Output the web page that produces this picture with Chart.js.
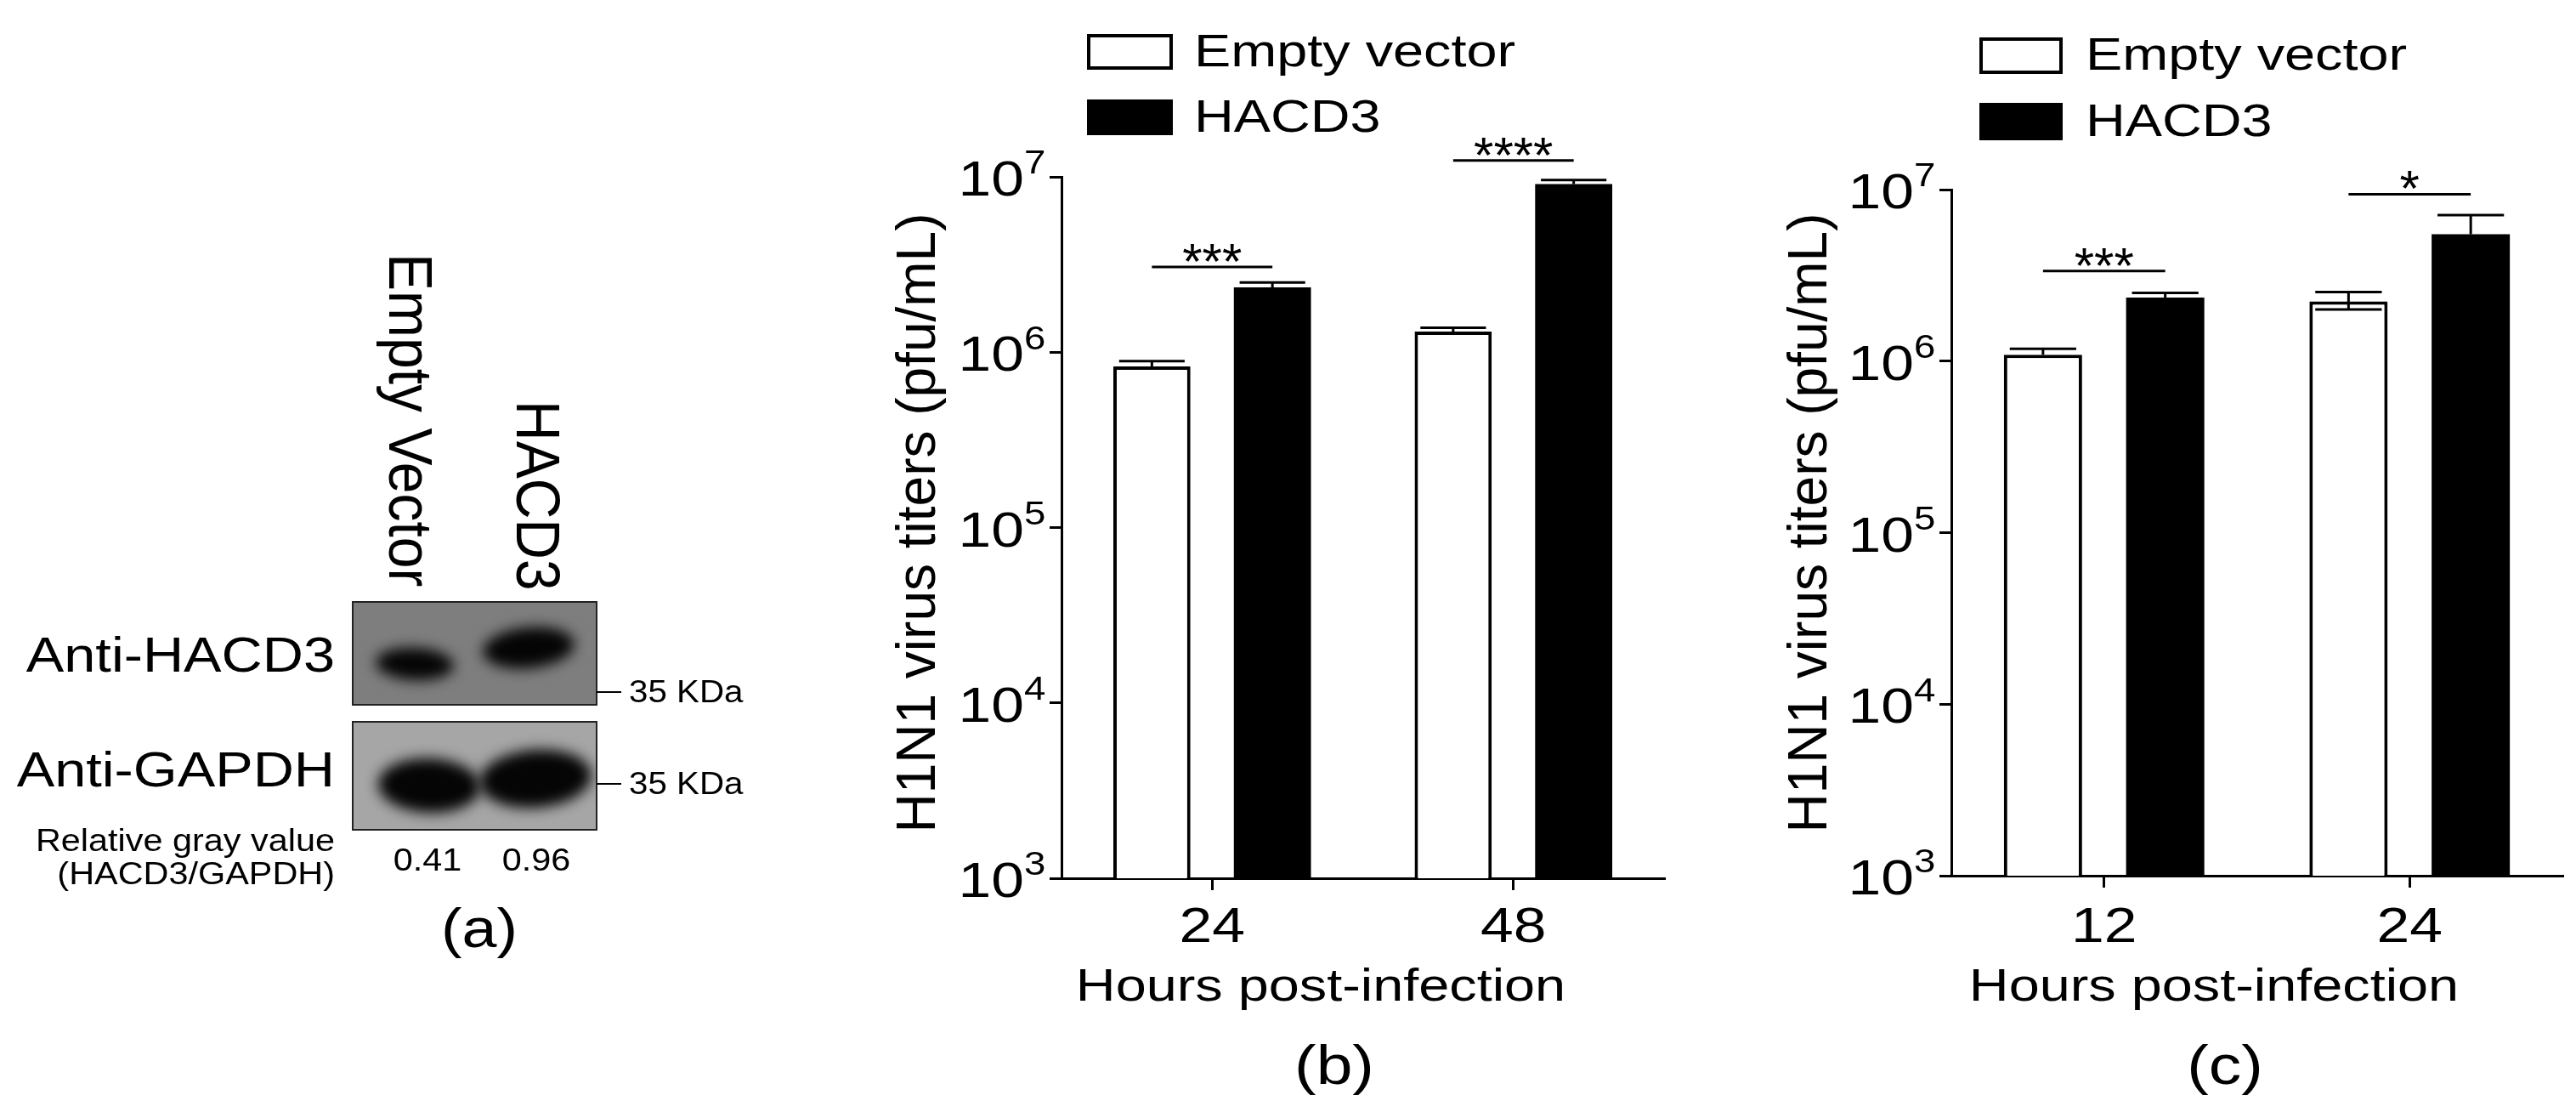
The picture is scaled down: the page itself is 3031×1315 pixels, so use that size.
<!DOCTYPE html>
<html><head><meta charset="utf-8">
<script src="https://cdn.jsdelivr.net/npm/chart.js@4"></script>
<style>html,body{margin:0;padding:0;background:#fff;width:3031px;height:1315px;overflow:hidden}canvas{position:absolute;top:0}</style>
</head><body>
<canvas id="ca" width="1000" height="1315" style="left:0"></canvas>
<canvas id="cb" width="1000" height="1315" style="left:1000px"></canvas>
<canvas id="cc" width="1000" height="1315" style="left:2031px"></canvas>
<script>
// ---- data ----
const seriesNames = ["Empty vector", "HACD3"];
const catsB = ["24", "48"];
const emptyB = [8.3e5, 1.31e6];
const hacdB = [2.34e6, 9.1e6];
const emptyHiB = [8.9e5, 1.38e6];
const hacdHiB = [2.5e6, 9.6e6];
const emptyLoB = [null, null];
const sigLevelB = [3.06e6, 1.24e7];
const sigTextB = ["***", "****"];

const catsC = ["12", "24"];
const emptyC = [1.09e6, 2.23e6];
const hacdC = [2.35e6, 5.5e6];
const emptyHiC = [1.18e6, 2.53e6];
const hacdHiC = [2.5e6, 7.1e6];
const emptyLoC = [null, 2.0e6];
const sigLevelC = [3.35e6, 9.4e6];
const sigTextC = ["***", "*"];

const decades = [3, 4, 5, 6, 7];
const blotValues = ["0.41", "0.96"];

const FF = "'Liberation Sans', Arial, sans-serif";
function txt(ctx, s, x, y, size, align, base, rot, sx) {
  ctx.save();
  ctx.translate(x, y);
  ctx.scale(sx == null ? 1.2 : sx, 1);
  if (rot) ctx.rotate(rot);
  ctx.font = size + "px " + FF;
  ctx.fillStyle = "#000";
  ctx.textAlign = align || "center";
  ctx.textBaseline = base || "middle";
  ctx.fillText(s, 0, 0);
  ctx.restore();
}

function makeChart(id, g, cats, empty, hacd, eHi, hHi, eLo, sigLv, sigTx, letter) {
  const annot = {
    id: "annot",
    afterDraw(chart) {
      const ctx = chart.ctx, ys = chart.scales.y, xs = chart.scales.x;
      ctx.save();
      ctx.strokeStyle = "#000"; ctx.lineWidth = 3;
      const his = [eHi, hHi];
      [0, 1].forEach(di => {
        chart.getDatasetMeta(di).data.forEach((el, j) => {
          const cw = el.width * 0.85, yt = ys.getPixelForValue(his[di][j]);
          ctx.beginPath();
          ctx.moveTo(el.x, el.y); ctx.lineTo(el.x, yt);
          ctx.moveTo(el.x - cw / 2, yt); ctx.lineTo(el.x + cw / 2, yt);
          if (di === 0 && eLo[j] != null) {
            const yl = ys.getPixelForValue(eLo[j]);
            ctx.moveTo(el.x, el.y); ctx.lineTo(el.x, yl);
            ctx.moveTo(el.x - cw / 2, yl); ctx.lineTo(el.x + cw / 2, yl);
          }
          ctx.stroke();
        });
      });
      const m0 = chart.getDatasetMeta(0).data, m1 = chart.getDatasetMeta(1).data;
      cats.forEach((c, j) => {
        const y = ys.getPixelForValue(sigLv[j]);
        ctx.beginPath(); ctx.moveTo(m0[j].x, y); ctx.lineTo(m1[j].x, y); ctx.stroke();
        txt(ctx, sigTx[j], (m0[j].x + m1[j].x) / 2, y + 14, 60, "center", "alphabetic", null, 1);
      });
      decades.forEach(e => {
        const y = ys.getPixelForValue(Math.pow(10, e));
        txt(ctx, "10", ys.right - 44, y + 6, 58, "right", "middle");
        txt(ctx, String(e), ys.right - 44, y - 14, 38, "left", "middle");
      });
      cats.forEach((c, j) => txt(ctx, c, xs.getPixelForTick(j), 1092, 58, "center", "middle"));
      txt(ctx, "Hours post-infection", g.xtX, 1162, 54, "center", "middle");
      txt(ctx, "H1N1 virus titers (pfu/mL)", g.ytX, g.ytY, 64, "center", "middle", -Math.PI / 2, 1);
      txt(ctx, letter, g.lX, 1257, 64, "center", "middle");
      ctx.lineWidth = 4;
      ctx.fillStyle = "#fff";
      ctx.fillRect(g.lg[0], g.lg[1], g.lg[2] - g.lg[0], g.lg[3] - g.lg[1]);
      ctx.strokeRect(g.lg[0] + 2, g.lg[1] + 2, g.lg[2] - g.lg[0] - 4, g.lg[3] - g.lg[1] - 4);
      ctx.fillStyle = "#000";
      ctx.fillRect(g.lg[0], g.lg[4], g.lg[2] - g.lg[0], g.lg[5] - g.lg[4]);
      txt(ctx, seriesNames[0], g.lgT, (g.lg[1] + g.lg[3]) / 2 + 2, 54, "left", "middle");
      txt(ctx, seriesNames[1], g.lgT, (g.lg[4] + g.lg[5]) / 2 + 2, 54, "left", "middle");
      ctx.restore();
    }
  };
  return new Chart(document.getElementById(id), {
    type: "bar",
    data: {
      labels: cats,
      datasets: [
        { label: seriesNames[0], data: empty, backgroundColor: "#fff", borderColor: "#000", borderWidth: 4 },
        { label: seriesNames[1], data: hacd, backgroundColor: "#000", borderColor: "#000", borderWidth: 0 }
      ]
    },
    options: {
      responsive: false, animation: false, devicePixelRatio: 1,
      categoryPercentage: 0.8, barPercentage: 0.64,
      layout: { padding: { top: g.top, right: g.right, left: 0, bottom: 0 } },
      plugins: { legend: { display: false }, tooltip: { enabled: false } },
      scales: {
        x: {
          grid: { drawOnChartArea: false, offset: false, tickLength: 14, color: "#000", lineWidth: 3 },
          border: { color: "#000", width: 3 },
          ticks: { display: false },
          afterFit: s => { s.height = 1315 - g.bottom; }
        },
        y: {
          type: "logarithmic", min: 1000, max: 1e7,
          afterBuildTicks: s => { s.ticks = decades.map(e => ({ value: Math.pow(10, e) })); },
          grid: { drawOnChartArea: false, tickLength: 14, color: "#000", lineWidth: 3 },
          border: { color: "#000", width: 3 },
          ticks: { display: false },
          afterFit: s => { s.width = g.left; }
        }
      }
    },
    plugins: [annot]
  });
}

makeChart("cb", { left: 249, top: 208, right: 42, bottom: 1033, xtX: 554, ytX: 82, ytY: 615, lX: 570,
  lg: [279, 40, 380, 82, 117, 159], lgT: 405 }, catsB, emptyB, hacdB, emptyHiB, hacdHiB, emptyLoB, sigLevelB, sigTextB, "(b)");
makeChart("cc", { left: 265, top: 223, right: 16, bottom: 1030, xtX: 574, ytX: 100, ytY: 615, lX: 587,
  lg: [298, 44, 396, 87, 121, 165], lgT: 423 }, catsC, emptyC, hacdC, emptyHiC, hacdHiC, emptyLoC, sigLevelC, sigTextC, "(c)");

// ---- panel (a): western blot illustration ----
(function () {
  const ctx = document.getElementById("ca").getContext("2d");
  ctx.fillStyle = "#fff"; ctx.fillRect(0, 0, 1000, 1315);
  function blot(y0, y1, bg, bands) {
    ctx.save();
    ctx.beginPath(); ctx.rect(415, y0, 287, y1 - y0); ctx.clip();
    ctx.fillStyle = bg; ctx.fillRect(415, y0, 287, y1 - y0);
    ctx.filter = "blur(8px)";
    ctx.fillStyle = "#050505";
    bands.forEach(b => { ctx.beginPath(); ctx.ellipse(b[0], b[1], b[2], b[3], b[4], 0, Math.PI * 2); ctx.fill(); });
    ctx.restore();
    ctx.strokeStyle = "#222"; ctx.lineWidth = 2; ctx.strokeRect(415, y0, 287, y1 - y0);
  }
  blot(708, 829, "#7e7e7e", [[488, 781, 46, 19, 0.05], [622, 762, 54, 24, -0.1]]);
  blot(849, 976, "#a6a6a6", [[505, 924, 60, 32, 0.04], [630, 916, 66, 34, -0.08]]);
  ctx.strokeStyle = "#000"; ctx.lineWidth = 2;
  ctx.beginPath(); ctx.moveTo(702, 814); ctx.lineTo(731, 814); ctx.moveTo(702, 922); ctx.lineTo(731, 922); ctx.stroke();
  txt(ctx, "35 KDa", 740, 816, 36, "left", "middle", null, 1.12);
  txt(ctx, "35 KDa", 740, 924, 36, "left", "middle", null, 1.12);
  txt(ctx, "Anti-HACD3", 394, 774, 58, "right", "middle", null, 1.15);
  txt(ctx, "Anti-GAPDH", 394, 909, 58, "right", "middle", null, 1.15);
  txt(ctx, "Relative gray value", 394, 991, 36, "right", "middle", null, 1.15);
  txt(ctx, "(HACD3/GAPDH)", 394, 1030, 36, "right", "middle", null, 1.15);
  txt(ctx, blotValues[0], 503, 1014, 36, "center", "middle", null, 1.15);
  txt(ctx, blotValues[1], 631, 1014, 36, "center", "middle", null, 1.15);
  txt(ctx, "(a)", 564, 1096, 64, "center", "middle", null, 1.15);
  txt(ctx, "Empty Vector", 478, 298, 66, "left", "middle", Math.PI / 2, 1.1);
  txt(ctx, "HACD3", 628, 471, 66, "left", "middle", Math.PI / 2, 1.1);
})();
</script>
</body></html>
